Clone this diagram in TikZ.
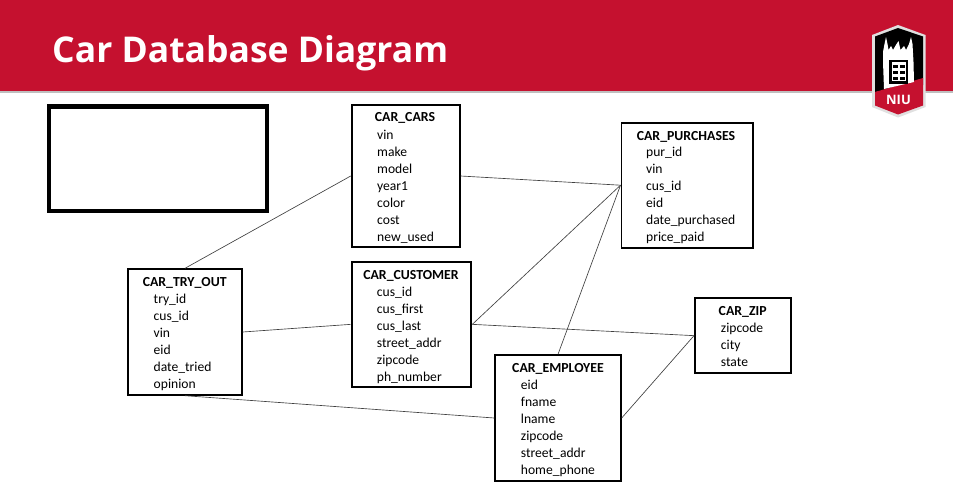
\documentclass[tikz,border=0pt]{standalone}
\usepackage{fontspec}
\setmainfont{Carlito}
\newfontfamily\titlefont{Open Sans}
\definecolor{niured}{HTML}{C5112F}
\tikzset{
  x=1pt,y=-1pt,
  tablebox/.style={draw=black,line width=1.9pt,fill=white,inner sep=0pt,anchor=north west},
  tabletitle/.style={font=\fontsize{13.8}{17}\selectfont\bfseries,inner sep=0pt,anchor=base},
  tablefields/.style={font=\fontsize{13.6}{16.95}\selectfont,inner sep=0pt,anchor=north west,align=left},
  link/.style={draw=black!75,line width=0.65pt},
}
\begin{document}
\begin{tikzpicture}
\useasboundingbox (0,0) rectangle (953,482);
\fill[white] (0,0) rectangle (953,482);
\fill[black!25] (0,90.5) rectangle (953,93);
\fill[niured] (0,0) rectangle (953,90.7);
\node[anchor=base west,inner sep=0pt,text=white,font=\fontsize{35.5}{40}\selectfont\titlefont\bfseries] (heading) at (52,62) {Car Database Diagram};
% logo
\fill[black!12] (898,25) -- (925.5,35) -- (925.5,107) -- (898,117.5) -- (872,107) -- (872,35) -- cycle;
\fill[black] (898,28) -- (923,36.5) -- (923,85) -- (875,92) -- (875,36.5) -- cycle;
\fill[niured] (875,92) -- (923,78) -- (923,105.5) -- (898,114.5) -- (875,105.5) -- cycle;
\fill[white] (883,62) -- (883,52) -- (884.5,44) -- (886,37) -- (887.5,44) -- (888.5,50) -- (891,46) -- (893,50) -- (896.5,44) -- (898.5,41) -- (900.5,50) -- (904,46) -- (906,50) -- (909,44) -- (911,37) -- (912.5,44) -- (913.5,62) -- (914,82) -- (884,89) -- cycle;
\fill[black] (889,60) rectangle (908,84);
\fill[white] (892,62) rectangle (906,81);
\foreach \yy in {65,71,77}{\fill[black] (893,\yy) rectangle (898,\yy+3.2);\fill[black] (900,\yy) rectangle (905,\yy+3.2);}
\node[inner sep=0pt,text=white,font=\fontsize{13}{13}\selectfont\titlefont\bfseries] (logotext) at (898.5,100) {NIU};
% blank box
\node[draw=black,line width=4.6pt,fill=white,inner sep=0pt,anchor=north west,minimum width=218pt,minimum height=104.4pt] (blank) at (46.7,104.3) {};
% tables (position and size are those of the outer edge, less the line width)
\node[tablebox,minimum width=108.1pt,minimum height=142.7pt] (cars) at (350.7,103.7) {};
\node[tablebox,minimum width=131.4pt,minimum height=125.1pt] (purchases) at (620.5,121.7) {};
\node[tablebox,minimum width=113.5pt,minimum height=125.5pt] (tryout) at (127.3,268.3) {};
\node[tablebox,minimum width=119.7pt,minimum height=124.8pt] (customer) at (350.7,261) {};
\node[tablebox,minimum width=125.5pt,minimum height=125.5pt] (employee) at (494.3,354.3) {};
\node[tablebox,minimum width=96.4pt,minimum height=74.8pt] (zip) at (694,297.3) {};
% connectors
\draw[link] (tryout.north) -- (cars.west);
\draw[link] (cars.east) -- (purchases.west);
\draw[link] (customer.east) -- (purchases.west);
\draw[link] (employee.north) -- (purchases.west);
\draw[link] (customer.east) -- (zip.west);
\draw[link] (employee.east) -- (zip.west);
\draw[link] (tryout.east) -- (customer.west);
\draw[link] (tryout.south) -- (employee.west);
% table texts
\node[tabletitle] (carsT) at (405,121.7) {CAR\_CARS};
\node[tablefields] (carsF) at (377,130) {vin\\make\\model\\year1\\color\\cost\\new\_used};
\node[tabletitle] (purT) at (686,140) {CAR\_PURCHASES};
\node[tablefields] (purF) at (646,147) {pur\_id\\vin\\cus\_id\\eid\\date\_purchased\\price\_paid};
\node[tabletitle] (tryT) at (184.7,286) {CAR\_TRY\_OUT};
\node[tablefields] (tryF) at (153.5,294) {try\_id\\cus\_id\\vin\\eid\\date\_tried\\opinion};
\node[tabletitle] (cusT) at (411,279.3) {CAR\_CUSTOMER};
\node[tablefields] (cusF) at (376.7,287) {cus\_id\\cus\_first\\cus\_last\\street\_addr\\zipcode\\ph\_number};
\node[tabletitle] (empT) at (558,372) {CAR\_EMPLOYEE};
\node[tablefields] (empF) at (520.7,380) {eid\\fname\\lname\\zipcode\\street\_addr\\home\_phone};
\node[tabletitle] (zipT) at (742.7,315.7) {CAR\_ZIP};
\node[tablefields] (zipF) at (720.7,322.7) {zipcode\\city\\state};
\end{tikzpicture}
\end{document}
